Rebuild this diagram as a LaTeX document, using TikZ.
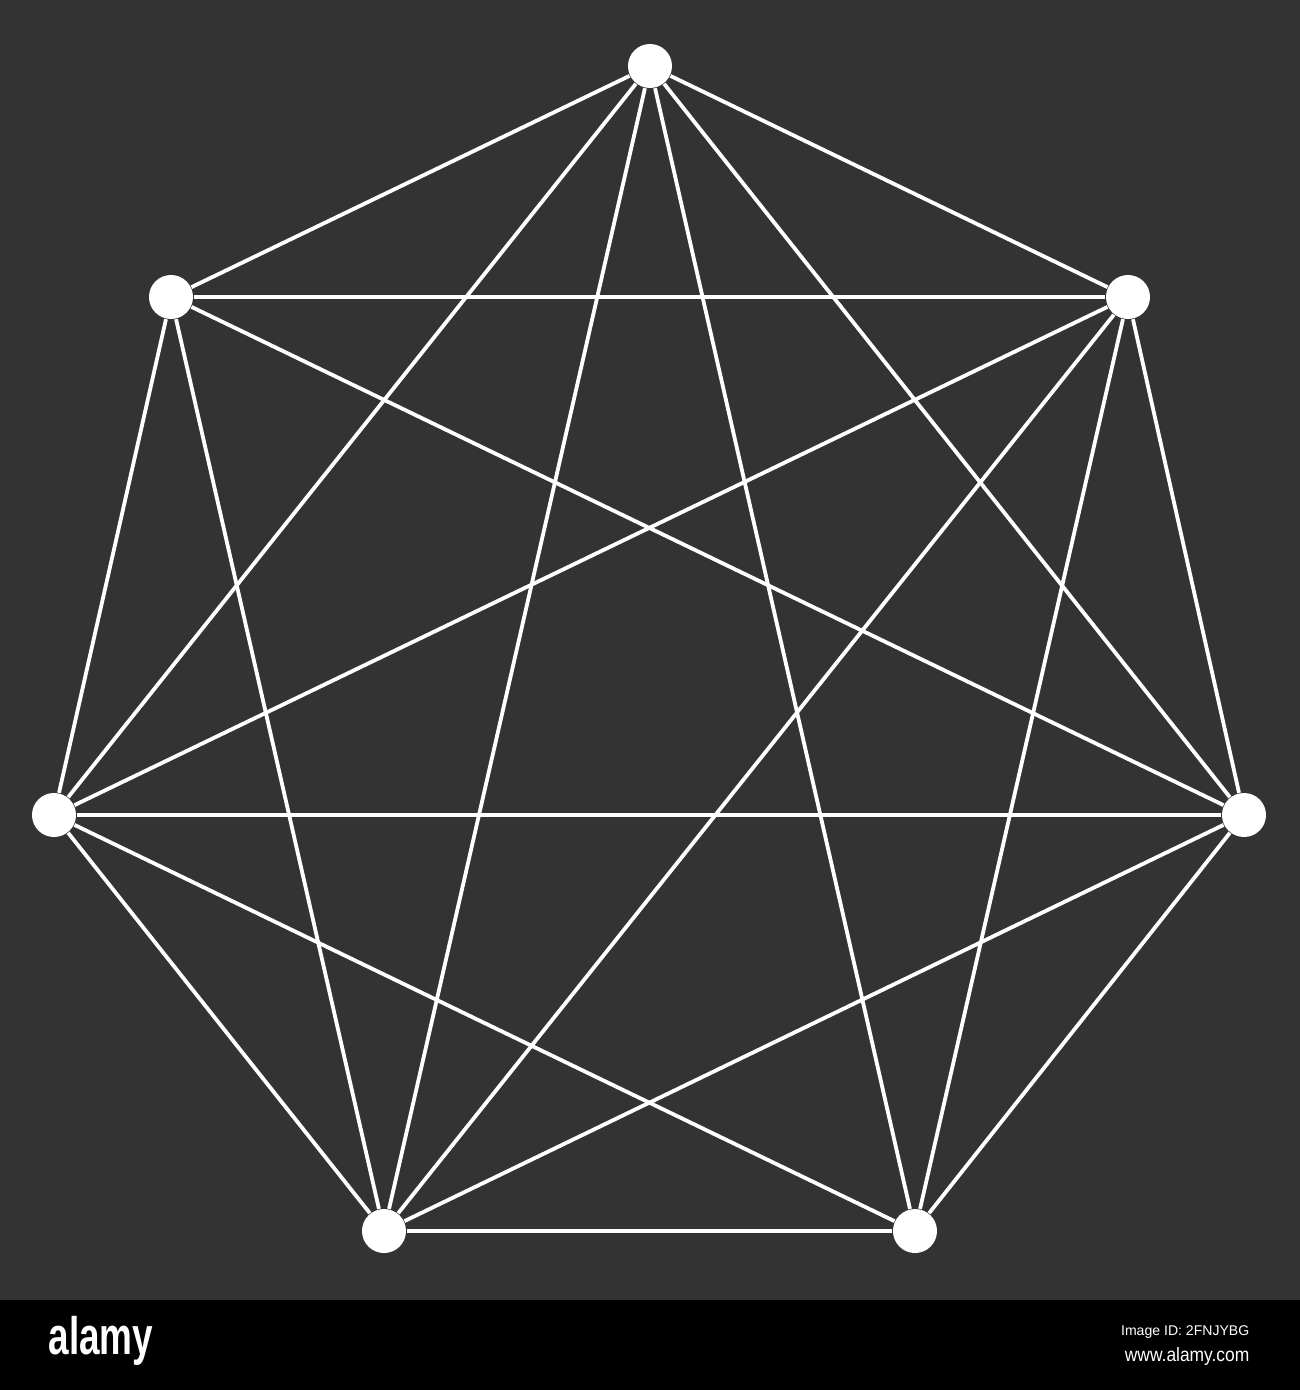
\documentclass[tikz,border=0pt]{standalone}
\usepackage{fontspec}
\setmainfont{Liberation Sans}
\begin{document}
\begin{tikzpicture}[x=0.01cm,y=-0.01cm,
  vert/.style={circle,fill=white,inner sep=0pt,minimum size=0.44cm},
  edge/.style={draw=white,line width=0.038cm}]
\definecolor{bgdark}{HTML}{333333}
\useasboundingbox (0,0) rectangle (1300,1390);
\fill[bgdark] (0,0) rectangle (1300,1300);
\fill[black] (0,1300) rectangle (1300,1390);
\node[vert] (a) at (650,66) {};
\node[vert] (b) at (1128,297) {};
\node[vert] (c) at (1244,815) {};
\node[vert] (d) at (915,1231) {};
\node[vert] (e) at (384,1231) {};
\node[vert] (f) at (54,815) {};
\node[vert] (g) at (171,297) {};
\foreach \u/\v in {a/b,a/c,a/d,a/e,a/f,a/g,b/c,b/d,b/e,b/f,b/g,c/d,c/e,c/f,c/g,d/e,d/f,e/f,e/g,f/g}
  \draw[edge] (\u) -- (\v);
\node[text=white,font=\bfseries\fontsize{15}{15}\selectfont,xscale=0.7,inner sep=0pt] (logo) at (101,1341) {alamy};
\node[text=white,font=\fontsize{4}{4}\selectfont,anchor=east,inner sep=0pt] (imgid) at (1250,1332) {Image ID: 2FNJYBG};
\node[text=white,font=\fontsize{5.5}{5.5}\selectfont,xscale=0.9,anchor=east,inner sep=0pt] (url) at (1250,1356) {www.alamy.com};
\end{tikzpicture}
\end{document}
